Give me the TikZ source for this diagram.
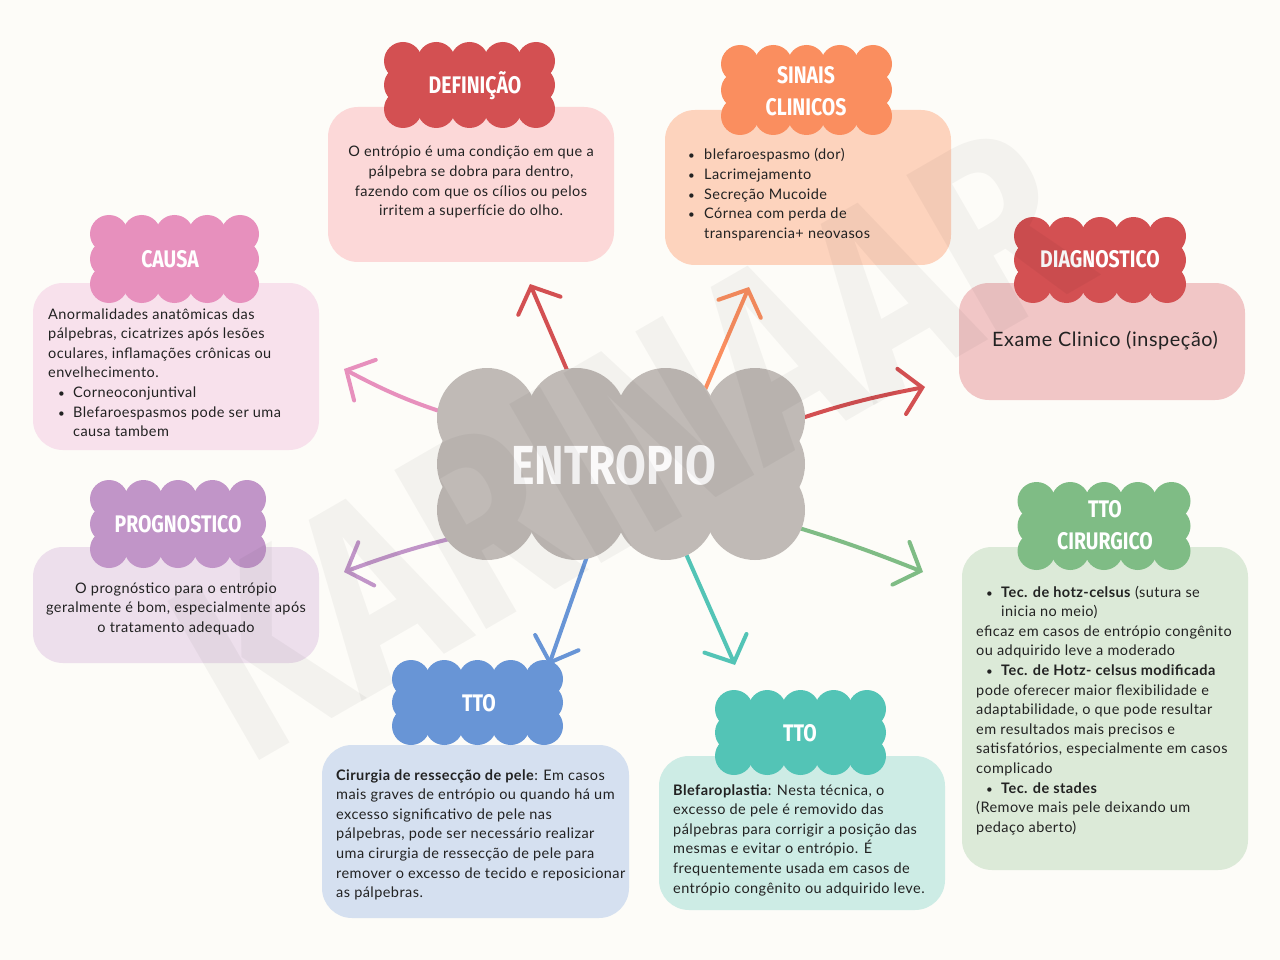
\documentclass[tikz,border=0pt]{standalone}
\usepackage{fontspec}
\setmainfont{Lato}[LetterSpace=3]
\newfontfamily\headfont{Fira Sans}[FakeStretch=0.81]
\usetikzlibrary{arrows.meta,calc}

\definecolor{bg}{HTML}{FDFCF8}
\definecolor{ink}{HTML}{222222}
\definecolor{cRed}{HTML}{D35052}
\definecolor{cOra}{HTML}{FA8E5F}
\definecolor{cPink}{HTML}{E790BD}
\definecolor{cPur}{HTML}{C195C8}
\definecolor{cGre}{HTML}{7FBC85}
\definecolor{cBlu}{HTML}{6895D6}
\definecolor{cTea}{HTML}{53C4B6}
\definecolor{cGray}{HTML}{C0BAB6}
\definecolor{fDef}{HTML}{FCD8D8}
\definecolor{fSin}{HTML}{FDD3BD}
\definecolor{fCau}{HTML}{F8E1EC}
\definecolor{fDia}{HTML}{F1C6C6}
\definecolor{fPro}{HTML}{EDDFEC}
\definecolor{fCir}{HTML}{DCEAD8}
\definecolor{fTb}{HTML}{D5E0F0}
\definecolor{fTt}{HTML}{CDECE5}

% scalloped cloud: cx cy w h r nx ny colour
\newcommand{\puff}[8]{%
  \pgfmathsetmacro\pxl{#1-#3/2+#5}%
  \pgfmathsetmacro\pxr{#1+#3/2-#5}%
  \pgfmathsetmacro\pyt{#2-#4/2+#5}%
  \pgfmathsetmacro\pyb{#2+#4/2-#5}%
  \fill[#8] (\pxl,\pyt) rectangle (\pxr,\pyb);
  \foreach \i in {1,...,#6}{%
    \pgfmathsetmacro\xx{\pxl+(\i-1)*(\pxr-\pxl)/(#6-1)}%
    \fill[#8] (\xx,\pyt) circle[radius=#5pt];
    \fill[#8] (\xx,\pyb) circle[radius=#5pt];
  }
  \foreach \j in {1,...,#7}{%
    \pgfmathsetmacro\yy{\pyt+\j*(\pyb-\pyt)/(#7+1)}%
    \fill[#8] (\pxl,\yy) circle[radius=#5pt];
    \fill[#8] (\pxr,\yy) circle[radius=#5pt];
  }
}
\newcommand{\blt}[2]{\hspace*{#1}\makebox[#2][l]{\scalebox{0.8}{\textbullet}}}

\tikzset{
  box/.style={rounded corners=30pt, inner sep=0pt, draw=none},
  head/.style={text=white, inner sep=0pt, align=center,
    font=\headfont\bfseries\fontsize{24}{32}\selectfont},
  body/.style={text=ink, inner sep=0pt,
    font=\fontsize{14.5}{19.6}\selectfont},
  arr/.style={line width=4pt, line cap=round,
    -{Straight Barb[length=21pt,width=46pt,line cap=round]}},
}

\begin{document}
\begin{tikzpicture}[x=1pt,y=-1pt]
\useasboundingbox (0,0) rectangle (1280,960);
\fill[bg] (0,0) rectangle (1280,960);

% boxes
\node[box, fill=fDef, minimum width=286pt, minimum height=155pt] (bDef) at (471,184.5) {};
\node[box, fill=fSin, minimum width=286pt, minimum height=155pt] (bSin) at (808,187.5) {};
\node[box, fill=fCau, minimum width=286pt, minimum height=167pt] (bCau) at (176,366.5) {};
\node[box, fill=fDia, minimum width=286pt, minimum height=117pt] (bDia) at (1102,341.5) {};
\node[box, fill=fPro, minimum width=286pt, minimum height=116pt] (bPro) at (176,605) {};
\node[box, fill=fCir, minimum width=286pt, minimum height=323pt] (bCir) at (1105,708.5) {};
\node[box, fill=fTb, minimum width=307pt, minimum height=173pt] (bTb) at (475.5,831.5) {};
\node[box, fill=fTt, minimum width=286pt, minimum height=154pt] (bTt) at (802,833) {};

% header clouds
\puff{469.5}{85}{171}{86}{19}{5}{1}{cRed}
\puff{806.5}{90}{171}{90}{19}{5}{1}{cOra}
\puff{174.5}{259}{169}{88}{19}{5}{1}{cPink}
\puff{1100}{260}{172}{86}{19}{5}{1}{cRed}
\puff{178}{524}{176}{88}{19}{5}{1}{cPur}
\puff{1104}{526}{173}{88}{19}{5}{1}{cGre}
\puff{477.5}{702.5}{171}{85}{19}{5}{1}{cBlu}
\puff{800.5}{732.5}{171}{85}{19}{5}{1}{cTea}

% header titles
\node[head, anchor=base] (hDef) at (475,93.5) {DEFINIÇÃO};
\node[head, anchor=base] (hSin) at (806,83.5) {\begin{tabular}[t]{@{}c@{}}SINAIS\\CLINICOS\end{tabular}};
\node[head, anchor=base] (hCau) at (170,267.5) {CAUSA};
\node[head, anchor=base] (hDia) at (1100,267.5) {DIAGNOSTICO};
\node[head, anchor=base] (hPro) at (178,532.5) {PROGNOSTICO};
\node[head, anchor=base] (hCir) at (1105,517.5) {\begin{tabular}[t]{@{}c@{}}TTO\\CIRURGICO\end{tabular}};
\node[head, anchor=base] (hTb) at (479,711.5) {TTO};
\node[head, anchor=base] (hTt) at (800,741.5) {TTO};

% body texts
\node[body, anchor=base] (tDef) at (471,157) {\begin{tabular}[t]{@{}c@{}}
O entrópio é uma condição em que a\\
pálpebra se dobra para dentro,\\
fazendo com que os cílios ou pelos\\
irritem a superfície do olho.\end{tabular}};

\node[body, anchor=base west] (tSin) at (685,160) {\begin{tabular}[t]{@{}l@{}}
\blt{3pt}{16pt}blefaroespasmo (dor)\\
\blt{3pt}{16pt}Lacrimejamento\\
\blt{3pt}{16pt}Secreção Mucoide\\
\blt{3pt}{16pt}Córnea com perda de\\
\hspace*{19pt}transparencia+ neovasos\end{tabular}};

\node[body, anchor=base west] (tCau) at (48,319) {\begin{tabular}[t]{@{}l@{}}
Anormalidades anatômicas das\\
pálpebras, cicatrizes após lesões\\
oculares, inflamações crônicas ou\\
envelhecimento.\\
\blt{10pt}{15pt}Corneoconjuntival\\
\blt{10pt}{15pt}Blefaroespasmos pode ser uma\\
\hspace*{25pt}causa tambem\end{tabular}};

\node[text=ink, inner sep=0pt, font=\fontsize{19.8}{22}\selectfont, anchor=base] (tDia) at (1105,346) {Exame Clinico (inspeção)};

\node[body, anchor=base] (tPro) at (176,593) {\begin{tabular}[t]{@{}c@{}}
O prognóstico para o entrópio\\
geralmente é bom, especialmente após\\
o tratamento adequado\end{tabular}};

\node[body, anchor=base west] (tCir) at (976,597) {\begin{tabular}[t]{@{}l@{}}
\blt{10pt}{15pt}\textbf{Tec. de hotz-celsus} (sutura se\\
\hspace*{25pt}inicia no meio)\\
eficaz em casos de entrópio congênito\\
ou adquirido leve a moderado\\
\blt{10pt}{15pt}\textbf{Tec. de Hotz- celsus modificada}\\
pode oferecer maior flexibilidade e\\
adaptabilidade, o que pode resultar\\
em resultados mais precisos e\\
satisfatórios, especialmente em casos\\
complicado\\
\blt{10pt}{15pt}\textbf{Tec. de stades}\\
(Remove mais pele deixando um\\
pedaço aberto)\end{tabular}};

\node[body, anchor=base west] (tTb) at (336,780) {\begin{tabular}[t]{@{}l@{}}
\textbf{Cirurgia de ressecção de pele}: Em casos\\
mais graves de entrópio ou quando há um\\
excesso significativo de pele nas\\
pálpebras, pode ser necessário realizar\\
uma cirurgia de ressecção de pele para\\
remover o excesso de tecido e reposicionar\\
as pálpebras.\end{tabular}};

\node[body, anchor=base west] (tTt) at (673,795) {\begin{tabular}[t]{@{}l@{}}
\textbf{Blefaroplastia}: Nesta técnica, o\\
excesso de pele é removido das\\
pálpebras para corrigir a posição das\\
mesmas e evitar o entrópio. É\\
frequentemente usada em casos de\\
entrópio congênito ou adquirido leve.\end{tabular}};

% arrows
\coordinate (aDefT) at (567,370); \coordinate (aDefH) at (530,284);
\coordinate (aSinT) at (710,378); \coordinate (aSinH) at (749,287);
\coordinate (aCauT) at (455,414); \coordinate (aCauH) at (344,369);
\coordinate (aDiaT) at (800,420); \coordinate (aDiaH) at (925,387);
\coordinate (aProT) at (472,535); \coordinate (aProH) at (344,572);
\coordinate (aCirT) at (775,522); \coordinate (aCirH) at (923,572);
\coordinate (aTbT) at (591,545); \coordinate (aTbH) at (549,665);
\coordinate (aTtT) at (690,563); \coordinate (aTtH) at (735,665);
\draw[arr, cRed] ($(aDefT)!-20pt!(aDefH)$) -- (aDefH);
\draw[arr, cOra] ($(aSinT)!-20pt!(aSinH)$) -- (aSinH);
\draw[arr, cPink] ($(aCauT)!-20pt!(aCauH)$) to[bend left=6] (aCauH);
\draw[arr, cRed] ($(aDiaT)!-20pt!(aDiaH)$) to[bend left=4] (aDiaH);
\draw[arr, cPur] ($(aProT)!-20pt!(aProH)$) to[bend right=4] (aProH);
\draw[arr, cGre] ($(aCirT)!-20pt!(aCirH)$) to[bend left=3] (aCirH);
\draw[arr, cBlu] ($(aTbT)!-20pt!(aTbH)$) -- (aTbH);
\draw[arr, cTea] ($(aTtT)!-20pt!(aTtH)$) -- (aTtH);

% central cloud
\puff{621}{464}{368}{192}{50}{4}{1}{cGray}
\node[text=white!92!cGray, inner sep=0pt, anchor=base,
  font=\headfont\bfseries\fontsize{55}{60}\selectfont] (center) at (614,484) {ENTROPIO};

% watermark
\node[rotate=30, text=black, opacity=0.04, inner sep=0pt,
  font=\headfont\bfseries\fontsize{265}{265}\selectfont] (wm) at (628,442) {KARINAAR};
\end{tikzpicture}
\end{document}
